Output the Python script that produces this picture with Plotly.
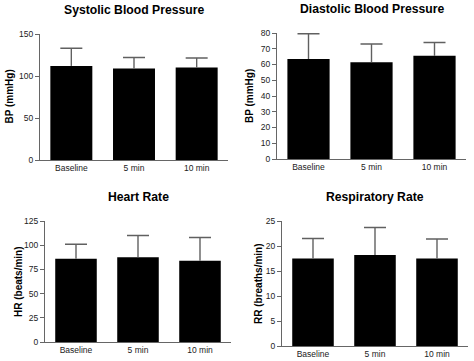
import plotly.graph_objects as go

categories = ["Baseline", "5 min", "10 min"]

sbp_mean = [112, 109, 110]
sbp_err = [21, 13, 11.5]
dbp_mean = [63.5, 61.5, 65.5]
dbp_err = [16, 11.5, 8.5]
hr_mean = [86, 87.5, 84]
hr_err = [15, 22.5, 24]
rr_mean = [17.5, 18.2, 17.5]
rr_err = [4.0, 5.5, 3.9]

titles = ["Systolic Blood Pressure", "Diastolic Blood Pressure", "Heart Rate", "Respiratory Rate"]
ytitles = ["BP (mmHg)", "BP (mmHg)", "HR (beats/min)", "RR (breaths/min)"]
yranges = [[0, 150], [0, 80], [0, 125], [0, 25]]
ydticks = [50, 10, 25, 5]

panels = [(sbp_mean, sbp_err), (dbp_mean, dbp_err), (hr_mean, hr_err), (rr_mean, rr_err)]

W, H = 474, 361
# layout boxes in pixels: x0, x1, ytop, ybottom, y-title x
boxes = [(40, 228, 34, 160, 8.5), (277, 466, 33, 159, 249), (45, 231, 221, 342, 18.5), (282, 468, 221, 346, 258.5)]

fig = go.Figure()
FONT = "Liberation Sans, Arial, sans-serif"
ERRC = "#606060"
for i, ((m, e), box) in enumerate(zip(panels, boxes)):
    n = i + 1
    xa = "x" if n == 1 else f"x{n}"
    ya = "y" if n == 1 else f"y{n}"
    fig.add_trace(go.Bar(
        x=categories, y=m, xaxis=xa, yaxis=ya,
        marker=dict(color="black", line=dict(width=0)),
        width=0.67, showlegend=False,
    ))
    # upper whisker stems
    sx, sy = [], []
    for c, mv, ev in zip(categories, m, e):
        sx += [c, c, None]
        sy += [mv, mv + ev, None]
    fig.add_trace(go.Scatter(
        x=sx, y=sy, xaxis=xa, yaxis=ya, mode="lines",
        line=dict(color=ERRC, width=1.4), showlegend=False, hoverinfo="skip",
    ))
    # whisker caps
    fig.add_trace(go.Scatter(
        x=categories, y=[mv + ev for mv, ev in zip(m, e)], xaxis=xa, yaxis=ya,
        mode="markers", marker=dict(size=1, color="rgba(0,0,0,0)"),
        error_y=dict(type="data", array=[0, 0, 0], color=ERRC, thickness=1.4, width=11),
        showlegend=False, hoverinfo="skip",
    ))
    x0, x1, yt, yb, tx = box
    xdom = [x0 / W, x1 / W]
    ydom = [1 - yb / H, 1 - yt / H]
    xkey = "xaxis" if n == 1 else f"xaxis{n}"
    ykey = "yaxis" if n == 1 else f"yaxis{n}"
    fig.layout[xkey] = dict(
        domain=xdom, anchor=ya, type="category", range=[-0.5, 2.5],
        showline=True, linecolor="#666666", linewidth=1.2, ticks="",
        tickfont=dict(size=8.5, color="#222222", family=FONT), showgrid=False,
        automargin=False,
    )
    fig.layout[ykey] = dict(
        domain=ydom, anchor=xa, range=yranges[i], dtick=ydticks[i],
        showline=True, linecolor="#666666", linewidth=1.2,
        ticks="outside", ticklen=4, tickcolor="#666666", tickwidth=1.2,
        tickfont=dict(size=8.5, color="#222222", family=FONT), showgrid=False, zeroline=False,
        automargin=False,
    )
    fig.add_annotation(
        text=f"<b>{titles[i]}</b>", xref="paper", yref="paper",
        x=(x0 + x1) / 2 / W, y=ydom[1] + 24 / H,
        xanchor="center", yanchor="middle", showarrow=False,
        font=dict(size=12.2, color="black", family=FONT),
    )
    fig.add_annotation(
        text=f"<b>{ytitles[i]}</b>", xref="paper", yref="paper",
        x=tx / W, y=(ydom[0] + ydom[1]) / 2, textangle=-90,
        xanchor="center", yanchor="middle", showarrow=False,
        font=dict(size=10, color="black", family=FONT),
    )

fig.update_layout(
    width=W, height=H, margin=dict(l=0, r=0, t=0, b=0),
    paper_bgcolor="white", plot_bgcolor="white",
)
fig.write_html("out.html", config={"displayModeBar": False},
               post_script="document.body.style.margin='0';")
